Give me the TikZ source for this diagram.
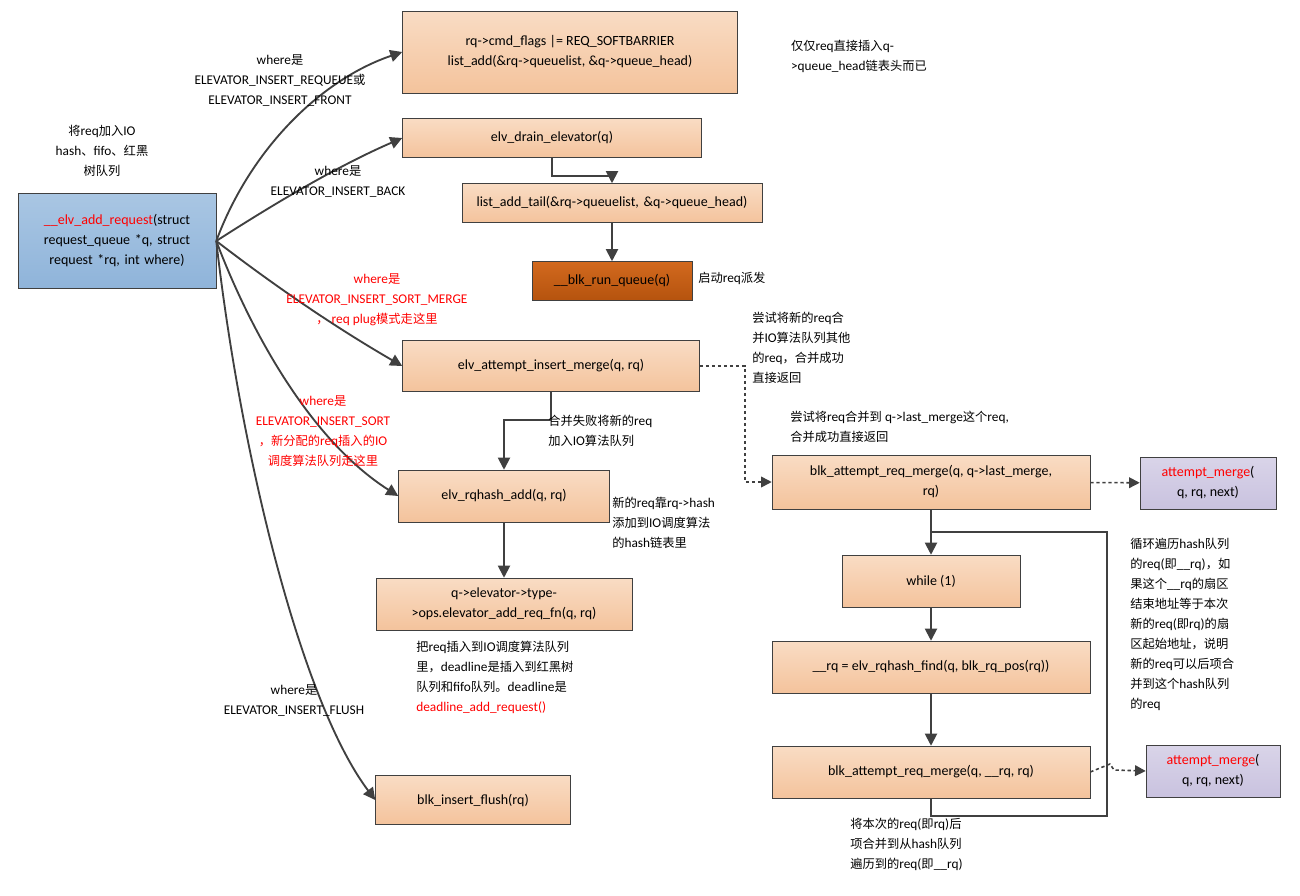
\documentclass[tikz,border=0pt]{standalone}
\usepackage{fontspec}
\setmainfont{Carlito}
\newfontfamily\cjk{Noto Sans CJK SC}[Scale=0.92]
\newcommand{\zh}[1]{{\cjk #1}}
\usetikzlibrary{arrows.meta}
\definecolor{boxtop}{HTML}{F9DCC4}
\definecolor{boxbot}{HTML}{F4C39C}
\definecolor{edge}{HTML}{404040}
\definecolor{bluetop}{HTML}{A9C6E3}
\definecolor{bluebot}{HTML}{8FB4DA}
\definecolor{runtop}{HTML}{D2691E}
\definecolor{runbot}{HTML}{B5530E}
\definecolor{purp}{HTML}{C9C2DF}
\tikzset{
  box/.style={draw=edge, top color=boxtop, bottom color=boxbot, align=center, inner sep=2pt},
  bluebox/.style={box, top color=bluetop, bottom color=bluebot},
  runbox/.style={box, top color=runtop, bottom color=runbot},
  purpbox/.style={box, top color=purp!70, bottom color=purp},
  arr/.style={draw=edge, line width=1.4pt, -{Triangle[width=9pt,length=9pt]}},
  darr/.style={draw=edge, line width=1.2pt, dash pattern=on 2.5pt off 2pt, -{Triangle[width=8pt,length=8pt]}},
  lbl/.style={align=center, inner sep=0pt, font=\linespread{1.25}\selectfont},
  note/.style={align=left, inner sep=0pt, font=\linespread{1.25}\selectfont}
}
\begin{document}
\begin{tikzpicture}[x=0.75pt, y=-0.75pt, font=\fontsize{10.5}{15}\selectfont]
\useasboundingbox (0,0) rectangle (1300,896);
% boxes
\node[bluebox, minimum width=198*0.75pt, minimum height=95*0.75pt, text width=190*0.75pt] (add) at (117,241)
  {\textcolor{red}{\_\_elv\_add\_request}(struct request\_queue *q, struct request *rq, int where)};
\node[box, minimum width=335*0.75pt, minimum height=82*0.75pt] (soft) at (570,52)
  {rq->cmd\_flags |= REQ\_SOFTBARRIER\\list\_add(\&rq->queuelist, \&q->queue\_head)};
\node[box, minimum width=299*0.75pt, minimum height=39*0.75pt] (drain) at (552,138) {elv\_drain\_elevator(q)};
\node[box, minimum width=300*0.75pt, minimum height=39*0.75pt, text width=290*0.75pt] (tail) at (612,203)
  {list\_add\_tail(\&rq->queuelist, \&q->queue\_head)};
\node[runbox, minimum width=160*0.75pt, minimum height=39*0.75pt] (run) at (612,281) {\_\_blk\_run\_queue(q)};
\node[box, minimum width=297*0.75pt, minimum height=51*0.75pt] (ins) at (551,366) {elv\_attempt\_insert\_merge(q, rq)};
\node[box, minimum width=211*0.75pt, minimum height=52*0.75pt] (hash) at (504,496) {elv\_rqhash\_add(q, rq)};
\node[box, minimum width=256*0.75pt, minimum height=52*0.75pt] (fn) at (504,604)
  {q->elevator->type-\\>ops.elevator\_add\_req\_fn(q, rq)};
\node[box, minimum width=195*0.75pt, minimum height=49*0.75pt] (flush) at (473,800) {blk\_insert\_flush(rq)};
\node[box, minimum width=318*0.75pt, minimum height=54*0.75pt] (last) at (931,482)
  {blk\_attempt\_req\_merge(q, q->last\_merge,\\rq)};
\node[purpbox, minimum width=136*0.75pt, minimum height=52*0.75pt] (am1) at (1208,483)
  {\textcolor{red}{attempt\_merge}(\\q, rq, next)};
\node[box, minimum width=178*0.75pt, minimum height=52*0.75pt] (while) at (931,581) {while (1)};
\node[box, minimum width=318*0.75pt, minimum height=52*0.75pt] (find) at (931,667)
  {\_\_rq = elv\_rqhash\_find(q, blk\_rq\_pos(rq))};
\node[box, minimum width=318*0.75pt, minimum height=52*0.75pt] (mrg) at (931,772)
  {blk\_attempt\_req\_merge(q, \_\_rq, rq)};
\node[purpbox, minimum width=134*0.75pt, minimum height=52*0.75pt] (am2) at (1213,771)
  {\textcolor{red}{attempt\_merge}(\\q, rq, next)};
% left connectors
\draw[arr] (add.east) .. controls (250,150) and (320,80) .. (soft.west);
\draw[arr] (add.east) .. controls (280,200) and (340,165) .. (drain.west);
\draw[arr] (add.east) .. controls (280,290) and (340,330) .. (ins.west);
\draw[arr] (add.east) .. controls (250,330) and (310,440) .. (hash.west);
\draw[arr] (add.east) .. controls (240,450) and (300,700) .. (flush.west);
% vertical flows
\coordinate (t1) at (612,176);
\draw[arr] (drain.south) |- (t1) -- (tail.north);
\draw[arr] (tail) -- (run);
\coordinate (h1) at (551,420);
\coordinate (h2) at (504,420);
\draw[arr] (ins.south) -- (h1) -- (h2) -- (hash.north);
\draw[arr] (hash) -- (fn);
\coordinate (d1) at (745,366);
\coordinate (d2) at (745,482);
\draw[darr] (ins.east) -- (d1) -- (d2) -- (last.west);
\draw[darr] (last) -- (am1);
\draw[arr] (last) -- (while);
\draw[arr] (while) -- (find);
\draw[arr] (find) -- (mrg);
\coordinate (l1) at (931,816);
\coordinate (l2) at (1107,816);
\coordinate (l3) at (1107,532);
\coordinate (l4) at (931,532);
\draw[draw=edge, line width=1.4pt] (mrg.south) -- (l1) -- (l2) -- (l3) -- (l4);
\coordinate (m1) at (1114,770);
\draw[darr] (mrg.east) -- (1110,764) -- (m1) -- (am2.west);
% labels
\node[lbl] (n1) at (280,80) {where\zh{是}\\ELEVATOR\_INSERT\_REQUEUE\zh{或}\\ELEVATOR\_INSERT\_FRONT};
\node[lbl] (n2) at (102,151) {\zh{将}req\zh{加入}IO\\hash\zh{、}fifo\zh{、红黑}\\\zh{树队列}};
\node[lbl] (n3) at (338,181) {where\zh{是}\\ELEVATOR\_INSERT\_BACK};
\node[lbl, text=red] (n4) at (377,300) {where\zh{是}\\ELEVATOR\_INSERT\_SORT\_MERGE\\\zh{，} req plug\zh{模式走这里}};
\node[lbl, text=red] (n5) at (323,431) {where\zh{是}\\ELEVATOR\_INSERT\_SORT\\\zh{，新分配的}req\zh{插入的}IO\\\zh{调度算法队列走这里}};
\node[lbl] (n6) at (294,700) {where\zh{是}\\ELEVATOR\_INSERT\_FLUSH};
\node[note] (n7) at (859,56) {\zh{仅仅}req\zh{直接插入}q-\\>queue\_head\zh{链表头而已}};
\node[note, anchor=west] (n8) at (698,278) {\zh{启动}req\zh{派发}};
\node[note, anchor=north west] (n9) at (752,312) {\zh{尝试将新的}req\zh{合}\\\zh{并}IO\zh{算法队列其他}\\\zh{的}req\zh{，合并成功}\\\zh{直接返回}};
\node[note, anchor=north west] (n10) at (790,411) {\zh{尝试将}req\zh{合并到} q->last\_merge\zh{这个}req,\\\zh{合并成功直接返回}};
\node[note, anchor=north west] (n11) at (548,415) {\zh{合并失败将新的}req\\\zh{加入}IO\zh{算法队列}};
\node[note, anchor=north west] (n12) at (612,497) {\zh{新的}req\zh{靠}rq->hash\\\zh{添加到}IO\zh{调度算法}\\\zh{的}hash\zh{链表里}};
\node[note, anchor=north west] (n13) at (416,641) {\zh{把}req\zh{插入到}IO\zh{调度算法队列}\\\zh{里，}deadline\zh{是插入到红黑树}\\\zh{队列和}fifo\zh{队列。}deadline\zh{是}\\\textcolor{red}{deadline\_add\_request()}};
\node[note, anchor=north west] (n14) at (1130,538) {\zh{循环遍历}hash\zh{队列}\\\zh{的}req(\zh{即}\_\_rq)\zh{，如}\\\zh{果这个}\_\_rq\zh{的扇区}\\\zh{结束地址等于本次}\\\zh{新的}req(\zh{即}rq)\zh{的扇}\\\zh{区起始地址，说明}\\\zh{新的}req\zh{可以后项合}\\\zh{并到这个}hash\zh{队列}\\\zh{的}req};
\node[note, anchor=north west] (n15) at (850,818) {\zh{将本次的}req(\zh{即}rq)\zh{后}\\\zh{项合并到从}hash\zh{队列}\\\zh{遍历到的}req(\zh{即}\_\_rq)};
\end{tikzpicture}
\end{document}
